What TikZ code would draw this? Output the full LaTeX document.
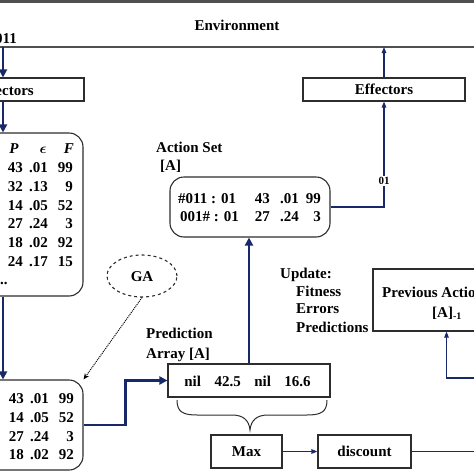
\documentclass[tikz,border=0pt]{standalone}
\usepackage{fontspec}
\setmainfont{Liberation Serif}
\usepackage{amsmath}
\usetikzlibrary{arrows.meta,shapes.geometric}
\definecolor{navy}{RGB}{25,40,105}
\definecolor{boxgray}{RGB}{45,45,45}
\definecolor{envgray}{RGB}{80,80,80}
\begin{document}
\begin{tikzpicture}[x=1pt,y=-1pt,
  every node/.style={font=\fontsize{15}{17}\selectfont\bfseries, inner sep=0pt},
  txt/.style={text height=11pt,text depth=1pt},
  sqbox/.style={draw=boxgray,line width=1.1pt,rectangle,txt},
  rbox/.style={draw=boxgray,line width=1.1pt,rectangle,rounded corners=14pt},
  fatarrow/.style={draw=navy,line width=2.6pt,-{Triangle[length=8pt,width=8pt]}},
  thinarrow/.style={draw=navy,line width=1.1pt,-{Triangle[length=6pt,width=4.5pt]}},
  thinline/.style={draw=navy,line width=1.1pt},
]
\useasboundingbox (0,0) rectangle (474,474);
\fill[envgray] (0,0) rectangle (474,2.5);

% environment
\node[txt] (env) at (237,25) {Environment};
\coordinate (envL) at (-5,47);
\coordinate (envR) at (480,47);
\draw[envgray,line width=1.3pt] (envL) -- (envR);
\coordinate (e1) at (3,47);
\node[txt,anchor=east] (msg) at (17,38) {011};

% boxes
\node[sqbox,minimum width=104pt,minimum height=23pt] (det) at (32,89.5) {};
\node[txt,anchor=east] (dettxt) at (34,90) {Detectors};
\node[rbox,minimum width=103pt,minimum height=163pt] (pop1) at (31.5,214.5) {};
\node[rbox,minimum width=103pt,minimum height=90pt] (pop2) at (31.5,425) {};
\node[rbox,minimum width=160pt,minimum height=60pt] (action) at (250,207) {};
\node[sqbox,minimum width=162pt,minimum height=33pt] (pred) at (249,380.5) {};
\node[sqbox,minimum width=162pt,minimum height=23pt] (eff) at (384,89.5) {Effectors};
\node[sqbox,minimum width=147pt,minimum height=62pt] (prev) at (446.5,300) {};
\node[sqbox,minimum width=71pt,minimum height=33pt] (max) at (246.5,451.5) {Max};
\node[sqbox,minimum width=93pt,minimum height=33pt] (disc) at (364.5,451.5) {discount};
\node[ellipse,draw=boxgray,dashed,line width=1.1pt,minimum width=70pt,minimum height=42pt,txt] (ga) at (142,276) {GA};

% population 1 contents
\node[txt,font=\fontsize{15}{17}\selectfont\bfseries\itshape] (hP) at (14,148) {P};
\node[txt] (hE) at (43,148) {$\boldsymbol{\epsilon}$};
\node[txt,font=\fontsize{15}{17}\selectfont\bfseries\itshape] (hF) at (69,148) {F};
\foreach \a/\b/\c/\y [count=\i] in {43/.01/99/167, 32/.13/9/186, 14/.05/52/205, 27/.24/3/223, 18/.02/92/242, 24/.17/15/261}{
  \node[txt,anchor=east] (pa\i) at (23,\y) {\a};
  \node[txt,anchor=east] (pb\i) at (48,\y) {\b};
  \node[txt,anchor=east] (pc\i) at (73,\y) {\c};
}
\node[txt,anchor=west] (pdots) at (0,279) {..};

% population 2 contents
\foreach \a/\b/\c/\y [count=\i] in {43/.01/99/398, 14/.05/52/417, 27/.24/3/436, 18/.02/92/454}{
  \node[txt,anchor=east] (qa\i) at (24,\y) {\a};
  \node[txt,anchor=east] (qb\i) at (49,\y) {\b};
  \node[txt,anchor=east] (qc\i) at (74,\y) {\c};
}

% action set
\node[txt,anchor=west] (aslbl) at (156,147) {Action Set};
\node[txt,anchor=west] (aslbl2) at (160,165) {[A]};
\node[txt,anchor=west] (as1) at (178,198) {\#011 : 01};
\node[txt,anchor=west] (as2) at (180,216) {001\# : 01};
\node[txt,anchor=east] (as1a) at (270,198) {43};
\node[txt,anchor=east] (as1b) at (299,198) {.01};
\node[txt,anchor=east] (as1c) at (321,198) {99};
\node[txt,anchor=east] (as2a) at (270,216) {27};
\node[txt,anchor=east] (as2b) at (299,216) {.24};
\node[txt,anchor=east] (as2c) at (321,216) {3};

% prediction array
\node[txt,anchor=west] (pal1) at (146,333) {Prediction};
\node[txt,anchor=west] (pal2) at (146,353) {Array [A]};
\node[txt] (patxt) at (247.5,381) {nil\hspace{13.5pt}42.5\hspace{13.5pt}nil\hspace{13.5pt}16.6};

% update
\node[txt,anchor=west] (up0) at (280,273) {Update:};
\node[txt,anchor=west] (up1) at (296,291) {Fitness};
\node[txt,anchor=west] (up2) at (296,308) {Errors};
\node[txt,anchor=west] (up3) at (296,327) {Predictions};

% previous action set
\node[txt,anchor=west] (prevt) at (382,292) {Previous Action Set};
\node[txt,anchor=west] (prevt2) at (432,312) {[A]\raisebox{-2.5pt}{\fontsize{10}{10}\selectfont -1}};

% connectors
\draw[fatarrow] (e1) -- (e1 |- det.north);
\draw[fatarrow] (e1 |- det.south) -- (e1 |- pop1.north);
\draw[fatarrow] (e1 |- pop1.south) -- (e1 |- pop2.north);
\draw[fatarrow] (pop2.east) -- ++(42,0) |- (pred.west);
\draw[fatarrow] (pred.north) -- (pred.north |- action.south);
\draw[thinarrow] (action.east) -| (eff.south);
\node[fill=white,inner sep=1.5pt,font=\fontsize{11}{12}\selectfont\bfseries] (l01) at (384,181) {01};
\draw[thinarrow] (eff.north) -- (eff.north |- envR);
\draw[densely dotted,line width=1pt,-{Stealth[length=6pt,width=5pt]}] (ga.south) -- (pop2.north east);
\draw[thinarrow] (max.east) -- (disc.west);
\coordinate (rightend) at (480,451.5);
\draw[thinline] (disc.east) -- (rightend);
\coordinate (pr) at (480,378);
\draw[thinarrow] (pr) -| (prev.south);

% brace
\draw[boxgray,line width=1pt] (177,400) .. controls (177,412) and (183,415) .. (197,415) -- (232,415) .. controls (243,415) and (249,420) .. (250,430) .. controls (251,420) and (257,415) .. (268,415) -- (307,415) .. controls (321,415) and (327,412) .. (327,400);
\end{tikzpicture}
\end{document}
